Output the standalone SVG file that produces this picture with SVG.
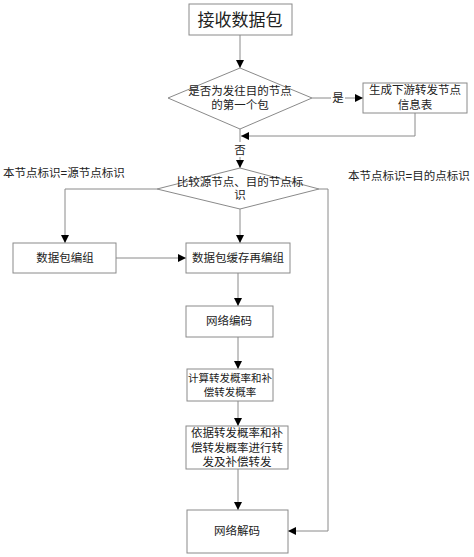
<svg xmlns="http://www.w3.org/2000/svg" width="474" height="557" viewBox="0 0 474 557">
<defs>
<marker id="ah" markerUnits="userSpaceOnUse" markerWidth="9" markerHeight="9" refX="8" refY="4" orient="auto"><path d="M0,0 L8,4 L0,8 z" fill="#000"/></marker>
<style>
.box{fill:#fff;stroke:#8a8a8a;stroke-width:1}
.ln{fill:none;stroke:#8a8a8a;stroke-width:1;marker-end:url(#ah)}
text{font-family:"Liberation Sans","Noto Sans CJK SC","Noto Sans CJK JP",sans-serif;font-size:11.5px;fill:#222;text-anchor:middle}
.big{font-size:17px}
.sm{font-size:10.5px}
.lab{text-anchor:start}
</style>
</defs>
<rect width="474" height="557" fill="#fff"/>
<g id="connectors">
<path class="ln" d="M240,35 V68"/>
<path class="ln" d="M312,98 H363"/>
<path class="ln" d="M415,113 V136 H241"/>
<path class="ln" d="M240,129 V168"/>
<path class="ln" d="M157,189 H65 V243"/>
<path class="ln" d="M240,209 V243"/>
<path class="ln" d="M116,258 H186"/>
<path class="ln" d="M319,189 H328 V531 H288"/>
<path class="ln" d="M238,273 V306"/>
<path class="ln" d="M238,337 V369"/>
<path class="ln" d="M238,401 V426"/>
<path class="ln" d="M238,469 V510"/>
</g>
<g id="label-yes"><rect x="331" y="90" width="14" height="15" fill="#fff"/><text x="338" y="102">是</text></g>
<g id="label-no"><rect x="233" y="142" width="14" height="15" fill="#fff"/><text x="240" y="154">否</text></g>
<g id="n-receive"><rect class="box" x="189" y="4" width="103" height="31"/><text class="big" x="240" y="26">接收数据包</text></g>
<g id="n-first"><polygon class="box" points="240,68 312,98 240,129 168,98"/><text x="240" y="95">是否为发往目的节点</text><text x="240" y="109">的第一个包</text></g>
<g id="n-gen"><rect class="box" x="363" y="83" width="104" height="30"/><text x="415" y="94">生成下游转发节点</text><text x="415" y="109">信息表</text></g>
<g id="n-compare"><polygon class="box" points="240,168 319,189 240,209 157,189"/><text x="240" y="186">比较源节点、目的节点标</text><text x="240" y="199">识</text></g>
<g id="lab-src"><text class="lab" x="3" y="177">本节点标识=源节点标识</text></g>
<g id="lab-dst"><text class="lab" x="348" y="180">本节点标识=目的点标识</text></g>
<g id="n-group"><rect class="box" x="13" y="243" width="103" height="30"/><text x="65" y="262">数据包编组</text></g>
<g id="n-cache"><rect class="box" x="186" y="243" width="104" height="30"/><text x="238" y="262">数据包缓存再编组</text></g>
<g id="n-encode"><rect class="box" x="186" y="306" width="87" height="31"/><text x="229" y="325">网络编码</text></g>
<g id="n-calc"><rect class="box" x="187" y="369" width="86" height="32"/><text class="sm" x="230" y="382">计算转发概率和补</text><text class="sm" x="230" y="396">偿转发概率</text></g>
<g id="n-forward"><rect class="box" x="186" y="426" width="102" height="43"/><text x="237" y="437">依据转发概率和补</text><text x="237" y="452">偿转发概率进行转</text><text x="237" y="466">发及补偿转发</text></g>
<g id="n-decode"><rect class="box" x="187" y="510" width="101" height="43"/><text x="237" y="535">网络解码</text></g>
</svg>
